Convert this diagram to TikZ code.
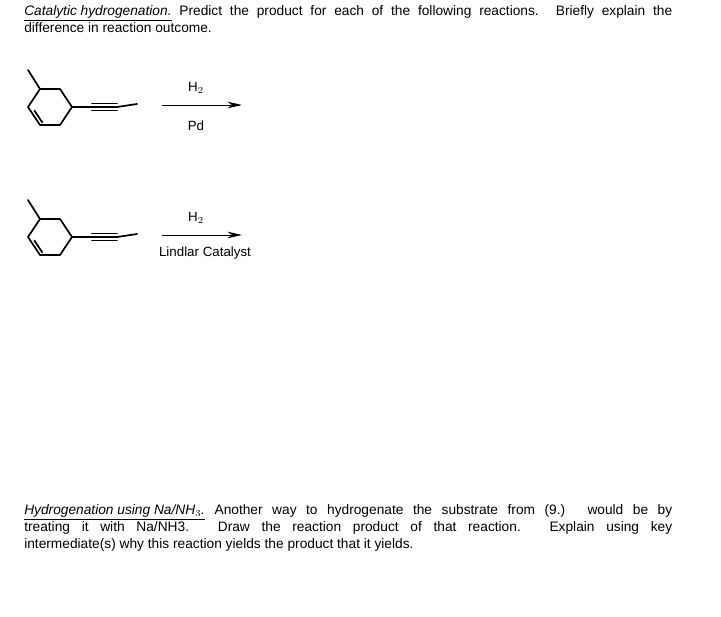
\documentclass[tikz,border=0pt]{standalone}
\usepackage{fontspec}
\setmainfont{Liberation Sans}
\usetikzlibrary{arrows.meta,calc}
\begin{document}
\begin{tikzpicture}[x=0.75pt,y=-0.75pt,
  bond/.style={line width=1.3pt,line cap=round,line join=round},
  rxn/.style={line width=0.7pt,-{Stealth[length=11pt,width=5pt]}},
  lbl/.style={font=\fontsize{10pt}{12pt}\selectfont,inner sep=0pt},
  para/.style={font=\fontsize{10.3pt}{12.75pt}\selectfont,inner sep=0pt,anchor=north west,text width=486pt,align=justify}]
\useasboundingbox (0,0) rectangle (721,617);
\node[para] (t1) at (24,5) {\underline{\itshape Catalytic hydrogenation.} Predict the product for each of the following reactions. Briefly explain the\linebreak difference in reaction outcome.};
\foreach \dy/\nm in {0/a,130/b}{
 \begin{scope}[yshift=-\dy*0.75pt]
  \coordinate (\nm1) at (40,89); \coordinate (\nm2) at (60,89); \coordinate (\nm3) at (72,107);
  \coordinate (\nm4) at (60,125); \coordinate (\nm5) at (40,125); \coordinate (\nm6) at (28,107);
  \coordinate (\nm m) at (28,70);
  \coordinate (\nm t1) at (92,107); \coordinate (\nm t2) at (117,107); \coordinate (\nm e) at (137,104);
  \draw[bond] (\nm1)--(\nm2)--(\nm3)--(\nm4)--(\nm5)--(\nm6)--cycle;
  \draw[bond] (\nm1)--(\nm m);
  \draw[bond] ($(\nm6)!0.2!(\nm5)+(4,0)$) -- ($(\nm6)!0.85!(\nm5)+(4,0)$);
  \draw[bond] (\nm3)--(\nm t1) (\nm t2)--(\nm e);
  \draw[bond] (\nm t1)--(\nm t2);
  \draw[bond] ($(\nm t1)+(0,-3.5)$)--($(\nm t2)+(0,-3.5)$);
  \draw[bond] ($(\nm t1)+(0,3.5)$)--($(\nm t2)+(0,3.5)$);
  \coordinate (\nm s) at (162,105); \coordinate (\nm f) at (242,105);
  \draw[rxn] (\nm s)--(\nm f);
 \end{scope}}
\node[lbl] (h1) at (196,88) {H$_2$};
\node[lbl] (pd) at (196,126) {Pd};
\node[lbl] (h2) at (196,218) {H$_2$};
\node[lbl] (lc) at (205,253) {Lindlar Catalyst};
\node[para] (t2) at (24,504) {\underline{\itshape Hydrogenation using Na/NH$_3$.} Another way to hydrogenate the substrate from (9.) would be by\linebreak treating it with Na/NH3. Draw the reaction product of that reaction. Explain using key\linebreak intermediate(s) why this reaction yields the product that it yields.};
\end{tikzpicture}
\end{document}
